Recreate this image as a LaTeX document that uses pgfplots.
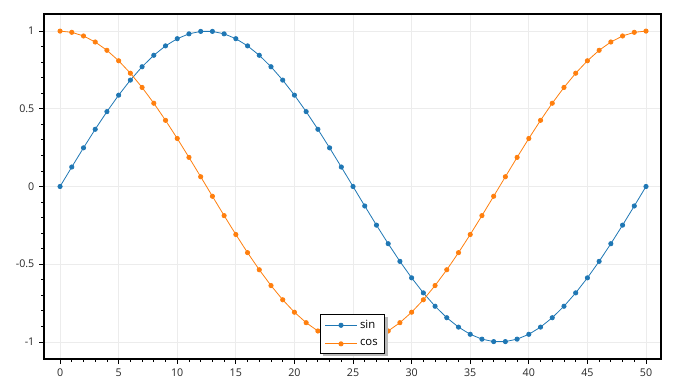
\documentclass[border=0pt]{standalone}
\usepackage{pgfplots}
\pgfplotsset{compat=1.18}
\usepackage{pgfplotstable}
\usepackage{fontspec}
\setmainfont{Open Sans}
\definecolor{cblue}{HTML}{1F77B4}
\definecolor{corange}{HTML}{FF7F0E}
\pgfplotstableread{
x s c
0 0 1
1 0.12533 0.99211
2 0.24869 0.96858
3 0.36812 0.92978
4 0.48175 0.87631
5 0.58779 0.80902
6 0.68455 0.72897
7 0.77051 0.63742
8 0.84433 0.53583
9 0.90483 0.42578
10 0.95106 0.30902
11 0.98229 0.18738
12 0.99803 0.06279
13 0.99803 -0.06279
14 0.98229 -0.18738
15 0.95106 -0.30902
16 0.90483 -0.42578
17 0.84433 -0.53583
18 0.77051 -0.63742
19 0.68455 -0.72897
20 0.58779 -0.80902
21 0.48175 -0.87631
22 0.36812 -0.92978
23 0.24869 -0.96858
24 0.12533 -0.99211
25 0 -1
26 -0.12533 -0.99211
27 -0.24869 -0.96858
28 -0.36812 -0.92978
29 -0.48175 -0.87631
30 -0.58779 -0.80902
31 -0.68455 -0.72897
32 -0.77051 -0.63742
33 -0.84433 -0.53583
34 -0.90483 -0.42578
35 -0.95106 -0.30902
36 -0.98229 -0.18738
37 -0.99803 -0.06279
38 -0.99803 0.06279
39 -0.98229 0.18738
40 -0.95106 0.30902
41 -0.90483 0.42578
42 -0.84433 0.53583
43 -0.77051 0.63742
44 -0.68455 0.72897
45 -0.58779 0.80902
46 -0.48175 0.87631
47 -0.36812 0.92978
48 -0.24869 0.96858
49 -0.12533 0.99211
50 0 1
}\datatable
\begin{document}
\begin{tikzpicture}
\begin{axis}[
  scale only axis,
  width=462.75pt, height=258.75pt,
  xmin=-1.37, xmax=51.28,
  ymin=-1.11, ymax=1.11,
  xtick={0,5,...,50},
  ytick={-1,-0.5,0,0.5,1},
  minor x tick num=4,
  minor y tick num=4,
  tick align=outside,
  tick pos=left,
  major tick length=3.75pt,
  minor tick length=2pt,
  every tick/.style={black, line width=0.6pt},
  axis line style={black, line width=0.9pt},
  grid=major,
  major grid style={gray!15, line width=0.6pt},
  tick label style={font=\fontsize{8}{9.5}\selectfont, text=black!85},
  /pgf/number format/assume math mode=true,
  yticklabel style={/pgf/number format/fixed},
  legend style={name=leg, at={(0.5,0.015)}, anchor=south, draw=black, line width=0.8pt, fill=white,
    font=\fontsize{8.5}{10}\selectfont,
    inner xsep=3pt, inner ysep=2pt, row sep=3pt},
  legend cell align=left,
  legend image code/.code={\draw[line width=0.6pt, mark repeat=2, mark phase=2] plot coordinates {(0cm,0cm) (0.42cm,0cm) (0.84cm,0cm)};},
]
\addplot[cblue, line width=0.6pt, mark=*, mark size=1.6pt, mark options={solid, draw=cblue, fill=cblue}] table[x=x, y=s] {\datatable};
\addlegendentry{sin}
\addplot[corange, line width=0.6pt, mark=*, mark size=1.6pt, mark options={solid, draw=corange, fill=corange}] table[x=x, y=c] {\datatable};
\addlegendentry{cos}
\end{axis}
\fill[gray!55] ([shift={(0.4pt,-0.4pt)}]leg.south east) -- ([shift={(2pt,-0.4pt)}]leg.south east) -- ([shift={(2pt,-2pt)}]leg.north east) -- ([shift={(0.4pt,-2pt)}]leg.north east) -- cycle;
\fill[gray!55] ([shift={(2pt,-0.4pt)}]leg.south west) -- ([shift={(2pt,-2pt)}]leg.south west) -- ([shift={(2pt,-2pt)}]leg.south east) -- ([shift={(2pt,-0.4pt)}]leg.south east) -- cycle;
\pgfresetboundingbox
\path ([shift={(-33pt,-21.75pt)}]current axis.south west) rectangle ([shift={(12.75pt,10.5pt)}]current axis.north east);
\end{tikzpicture}
\end{document}
